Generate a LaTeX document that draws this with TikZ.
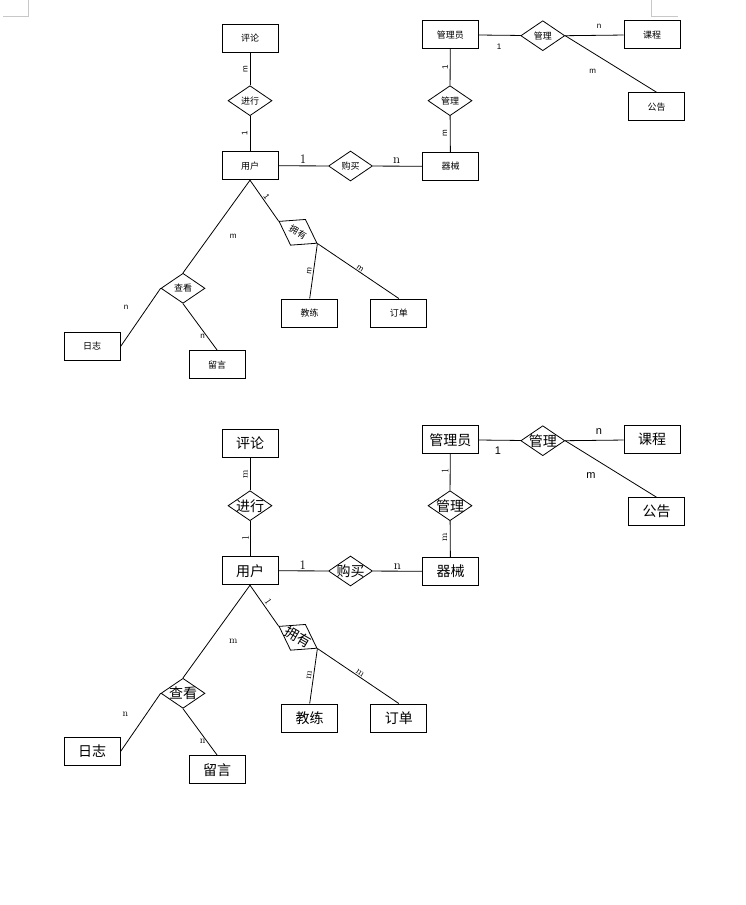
\documentclass[tikz,border=0pt]{standalone}
\usepackage{fontspec}
\newfontfamily\cjk{Noto Sans CJK SC}
\newfontfamily\labsf{Liberation Sans}
\usepackage{xcolor}
\definecolor{Col1}{RGB}{200,200,200}
\usepackage{tikz}
\usetikzlibrary{shapes.geometric}
\tikzstyle{Entity}=[rectangle,draw,line width=1pt,minimum width=56pt,
minimum height=28pt,inner sep=0pt]
\tikzstyle{Relation}=[diamond,draw,line width=0.8pt,minimum width=44pt,
minimum height=30pt,inner sep=0pt]
\tikzstyle{Edge}=[draw=black,line width=0.8pt]
\tikzstyle{TextS}=[font=\cjk\fontsize{9}{9}\selectfont]
\tikzstyle{TextB}=[font=\cjk\fontsize{14}{14}\selectfont]
\tikzstyle{CardS}=[font=\labsf\fontsize{8}{8}\selectfont,inner sep=0pt]
\tikzstyle{CardSB}=[font=\labsf\fontsize{11}{11}\selectfont,inner sep=0pt]
\tikzstyle{CardR}=[font=\fontsize{13}{13}\selectfont,inner sep=0pt]
\tikzstyle{CardRS}=[font=\fontsize{10}{10}\selectfont,inner sep=0pt]
\newcommand{\Zw}[1]{\makebox[0pt]{#1}}

\begin{document}
\begin{tikzpicture}[x=1pt,y=-1pt]
        \useasboundingbox (0,0) rectangle (746,905);
        \draw[Col1,line width=0.8pt](3,16.3)--(28.3,16.3)--(28.3,0);
        \draw[Col1,line width=0.8pt](651.3,0)--(651.3,16.3)--(677.7,16.3);
        % small copy
        \node[Entity,TextS](pl)at(250,38.5){评论};
        \node[Relation,TextS](jx)at(250,100.7){进行};
        \node[Entity,TextS](yh)at(250,165.7){用户};
        \node[Relation,TextS](gm)at(350.5,166){购买};
        \node[Entity,TextS](qx)at(450.5,166.3){器械};
        \node[Relation,TextS](gl2)at(450,100.7){管理};
        \node[Entity,TextS](gly)at(450.3,34.7){管理员};
        \node[Relation,TextS](gl1)at(542.8,35.7){管理};
        \node[Entity,TextS](kc)at(652,34.7){课程};
        \node[Entity,TextS](gg)at(656.5,106.7){公告};
        \node[Relation,TextS](ck)at(183,288.3){查看};
        \node[Entity,TextS](rz)at(92.2,346.3){日志};
        \node[Entity,TextS](ly)at(217.2,364.7){留言};
        \node[Relation,TextS,rotate=-30](yy)at(298,232.3){拥有};
        \node[Entity,TextS](jl)at(309.7,313){教练};
        \node[Entity,TextS](dd)at(398.8,313){订单};
        \draw[Edge](pl)--(jx);
        \draw[Edge](jx)--(yh);
        \draw[Edge](yh)--(gm);
        \draw[Edge](gm)--(qx);
        \draw[Edge](qx)--(gl2);
        \draw[Edge](gl2)--(gly);
        \draw[Edge](gly)--(gl1);
        \draw[Edge](gl1.east)--(kc);
        \draw[Edge](gl1.east)--(gg.north);
        \draw[Edge](yh.south)--(ck.north);
        \draw[Edge](ck.west)--(rz.east);
        \draw[Edge](ck.south)--(ly.north);
        \draw[Edge](yh.south)--(yy.west);
        \draw[Edge](yy.east)--(jl.north);
        \draw[Edge](yy.east)--(dd.north);
        \node[CardS,rotate=90](c1)at(245.5,69){m};
        \node[CardS,rotate=90](c2)at(244.5,133.3){1};
        \node[CardR](c3)at(303,159.3){1};
        \node[CardR](c4)at(396.7,161){n};
        \node[CardS,rotate=90](c5)at(445,133.3){m};
        \node[CardS,rotate=90](c6)at(445,67.7){1};
        \node[CardS](c7)at(499,46.7){1};
        \node[CardS](c8)at(599,26){n};
        \node[CardS](c9)at(592.7,71){m};
        \node[CardS](c10)at(233.3,236){m};
        \node[CardS](c11)at(126,307.7){n};
        \node[CardS](c12)at(202.7,336.7){n};
        \node[CardS,rotate=-55](c13)at(266.7,196.7){1};
        \node[CardS,rotate=83](c14)at(309.3,270.7){m};
        \node[CardS,rotate=-35](c15)at(360,268.3){m};
        % large copy
        \node[Entity,TextB](bpl)at(250,443.5){评论};
        \node[Relation,TextB](bjx)at(250,505.7){\Zw{进行}};
        \node[Entity,TextB](byh)at(250,570.7){用户};
        \node[Relation,TextB](bgm)at(350.5,571){\Zw{购买}};
        \node[Entity,TextB](bqx)at(450.5,571.3){器械};
        \node[Relation,TextB](bgl2)at(450,505.7){\Zw{管理}};
        \node[Entity,TextB](bgly)at(450.3,439.7){管理员};
        \node[Relation,TextB](bgl1)at(542.8,440.7){\Zw{管理}};
        \node[Entity,TextB](bkc)at(652,439.7){课程};
        \node[Entity,TextB](bgg)at(656.5,511.7){公告};
        \node[Relation,TextB](bck)at(183,693.3){\Zw{查看}};
        \node[Entity,TextB](brz)at(92.2,751.3){日志};
        \node[Entity,TextB](bly)at(217.2,769.7){留言};
        \node[Relation,TextB,rotate=-30](byy)at(298,637.3){\Zw{拥有}};
        \node[Entity,TextB](bjl)at(309.7,718){教练};
        \node[Entity,TextB](bdd)at(398.8,718){订单};
        \draw[Edge](bpl)--(bjx);
        \draw[Edge](bjx)--(byh);
        \draw[Edge](byh)--(bgm);
        \draw[Edge](bgm)--(bqx);
        \draw[Edge](bqx)--(bgl2);
        \draw[Edge](bgl2)--(bgly);
        \draw[Edge](bgly)--(bgl1);
        \draw[Edge](bgl1.east)--(bkc);
        \draw[Edge](bgl1.east)--(bgg.north);
        \draw[Edge](byh.south)--(bck.north);
        \draw[Edge](bck.west)--(brz.east);
        \draw[Edge](bck.south)--(bly.north);
        \draw[Edge](byh.south)--(byy.west);
        \draw[Edge](byy.east)--(bjl.north);
        \draw[Edge](byy.east)--(bdd.north);
        \node[CardRS,rotate=90](d1)at(245.5,474.3){m};
        \node[CardRS,rotate=90](d2)at(245.5,538){1};
        \node[CardR](d3)at(302.7,565.3){1};
        \node[CardR](d4)at(397.3,566.7){n};
        \node[CardRS,rotate=90](d5)at(445,537.3){m};
        \node[CardRS,rotate=90](d6)at(445,471){1};
        \node[CardSB](d7)at(498,450.7){1};
        \node[CardSB](d8)at(599,431.7){n};
        \node[CardSB](d9)at(591,476){m};
        \node[CardRS](d10)at(233.3,641.7){m};
        \node[CardRS](d11)at(125.3,714){n};
        \node[CardRS](d12)at(202.7,741.7){n};
        \node[CardRS,rotate=-55](d13)at(268.3,601.7){1};
        \node[CardRS,rotate=83](d14)at(309.3,675){m};
        \node[CardRS,rotate=-35](d15)at(360,673.3){m};
    \end{tikzpicture}
\end{document}
